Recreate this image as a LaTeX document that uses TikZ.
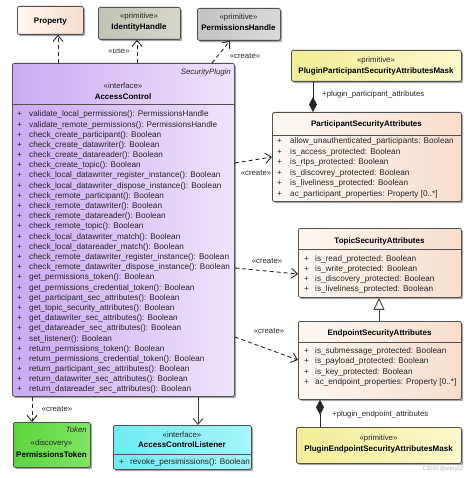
\documentclass[tikz,border=0pt]{standalone}
\usepackage{fontspec}
\setmainfont{Liberation Sans}
\usetikzlibrary{arrows.meta,shadows,calc}
\definecolor{acL}{RGB}{203,170,244}
\definecolor{acR}{RGB}{238,228,251}
\definecolor{peL}{RGB}{253,247,242}
\definecolor{peR}{RGB}{248,222,206}
\definecolor{yeL}{RGB}{242,238,150}
\definecolor{yeR}{RGB}{251,248,205}
\definecolor{giL}{RGB}{194,194,180}
\definecolor{giR}{RGB}{214,214,204}
\definecolor{gpL}{RGB}{196,196,196}
\definecolor{gpR}{RGB}{218,218,218}
\definecolor{grL}{RGB}{92,214,60}
\definecolor{grR}{RGB}{130,228,100}
\definecolor{cyL}{RGB}{110,236,243}
\definecolor{cyR}{RGB}{165,246,249}
\definecolor{frame}{RGB}{80,80,80}
\begin{document}
\begin{tikzpicture}[x=1pt,y=-1pt,
  box/.style={draw=frame, line width=0.8pt, rounded corners=2pt, inner sep=0pt, anchor=north west,
     drop shadow={shadow xshift=1.8pt, shadow yshift=-1.8pt, fill=black, opacity=0.35}},
  sepline/.style={draw=frame, line width=0.8pt},
  item/.style={font=\fontsize{8.2}{9}\selectfont, anchor=west, inner sep=0pt, text height=5.7pt, text depth=0pt, text=black!85},
  ttl/.style={font=\fontsize{8}{9}\selectfont\bfseries, inner sep=0pt, text height=5.8pt, text depth=0pt},
  stereo/.style={font=\fontsize{7.8}{9}\selectfont, inner sep=0pt, text height=5.6pt, text depth=0pt, text=black!85},
  lbl/.style={font=\fontsize{7.8}{9}\selectfont, inner sep=0pt, text height=5.6pt, text depth=0pt, text=black!85},
  dep/.style={draw=black!85, line width=0.9pt, dash pattern=on 4pt off 3pt, -{Straight Barb[length=6pt,width=10pt]}},
  assoc/.style={draw=black!75, line width=0.9pt, -{Straight Barb[length=6pt,width=10pt]}},
  gen/.style={draw=black!75, line width=0.9pt, -{Triangle[open,length=12pt,width=11pt,fill=white]}},
  comp/.style={draw=black!85, line width=0.9pt, {Diamond[length=15pt,width=8pt]}-},
]
\useasboundingbox (0,0) rectangle (474,478);

% ---- top boxes
\node[box, left color=peL, right color=peR, minimum width=66pt, minimum height=28pt] (prop) at (17,6) {};
\node[ttl] (propT) at (prop.center) {Property};

\node[box, left color=giL, right color=giR, minimum width=82pt, minimum height=32pt] (ih) at (98,7) {};
\node[stereo] (ihS) at (139,16) {«primitive»};
\node[ttl] (ihT) at (139,27) {IdentityHandle};

\node[box, left color=gpL, right color=gpR, minimum width=83pt, minimum height=32pt] (ph) at (197,8) {};
\node[stereo] (phS) at (238.5,17) {«primitive»};
\node[ttl] (phT) at (238.5,28) {PermissionsHandle};

% ---- AccessControl
\node[box, left color=acL, right color=acR, minimum width=222pt, minimum height=333pt] (ac) at (12,63) {};
\node[stereo, anchor=east, font=\fontsize{7.8}{9}\selectfont\itshape] (acP) at (231,72) {SecurityPlugin};
\node[stereo] (acS) at (123,86) {«interface»};
\node[ttl] (acT) at (123,97) {AccessControl};
\draw[sepline] (ac.west |- 0,104) -- (ac.east |- 0,104);
\foreach \t [count=\i from 0] in {
 validate\_local\_permissions(): PermissionsHandle,
 validate\_remote\_permissions(): PermissionsHandle,
 check\_create\_participant(): Boolean,
 check\_create\_datawriter(): Boolean,
 check\_create\_datareader(): Boolean,
 check\_create\_topic(): Boolean,
 check\_local\_datawriter\_register\_instance(): Boolean,
 check\_local\_datawriter\_dispose\_instance(): Boolean,
 check\_remote\_participant(): Boolean,
 check\_remote\_datawriter(): Boolean,
 check\_remote\_datareader(): Boolean,
 check\_remote\_topic(): Boolean,
 check\_local\_datawriter\_match(): Boolean,
 check\_local\_datareader\_match(): Boolean,
 check\_remote\_datawriter\_register\_instance(): Boolean,
 check\_remote\_datawriter\_dispose\_instance(): Boolean,
 get\_permissions\_token(): Boolean,
 get\_permissions\_credential\_token(): Boolean,
 get\_participant\_sec\_attributes(): Boolean,
 get\_topic\_security\_attributes(): Boolean,
 get\_datawriter\_sec\_attributes(): Boolean,
 get\_datareader\_sec\_attributes(): Boolean,
 set\_listener(): Boolean,
 return\_permissions\_token(): Boolean,
 return\_permissions\_credential\_token(): Boolean,
 return\_participant\_sec\_attributes(): Boolean,
 return\_datawriter\_sec\_attributes(): Boolean,
 return\_datareader\_sec\_attributes(): Boolean}{
  \node[item] (acp\i) at (17, 114+10.19*\i) {+};
  \node[item] (act\i) at (29, 114+10.19*\i) {\t};
}

% ---- bottom-left boxes
\node[box, left color=grL, right color=grR, minimum width=77pt, minimum height=45pt] (tok) at (13,422) {};
\node[stereo, anchor=east, font=\fontsize{7.8}{9}\selectfont\itshape] (tokI) at (87,430) {Token};
\node[stereo] (tokS) at (51.5,443) {«discovery»};
\node[ttl] (tokT) at (51.5,455) {PermissionsToken};

\node[box, left color=cyL, right color=cyR, minimum width=138pt, minimum height=44pt] (acl) at (113,425) {};
\node[stereo] (aclS) at (182,435) {«interface»};
\node[ttl] (aclT) at (182,445) {AccessControlListener};
\draw[sepline] (acl.west |- 0,454) -- (acl.east |- 0,454);
\node[item] (aclp) at (119,461.5) {+};
\node[item] (aclt) at (130,461.5) {revoke\_persimissions(): Boolean};

% ---- right column
\node[box, left color=yeL, right color=yeR, minimum width=170pt, minimum height=31pt] (ppm) at (291,50) {};
\node[stereo] (ppmS) at (376,60) {«primitive»};
\node[ttl] (ppmT) at (376,71) {PluginParticipantSecurityAttributesMask};

\node[box, left color=peL, right color=peR, minimum width=189pt, minimum height=89pt] (psa) at (272,112) {};
\node[ttl] (psaT) at (366.5,124) {ParticipantSecurityAttributes};
\draw[sepline] (psa.west |- 0,135) -- (psa.east |- 0,135);
\foreach \t [count=\i from 0] in {
 allow\_unauthenticated\_participants: Boolean,
 is\_access\_protected: Boolean,
 is\_rtps\_protected: Boolean,
 is\_discovrey\_protected: Boolean,
 is\_liveliness\_protected: Boolean,
 ac\_participant\_properties: Property [0..*]}{
  \node[item] (psap\i) at (277, 141+10.45*\i) {+};
  \node[item] (psat\i) at (290, 141+10.45*\i) {\t};
}

\node[box, left color=peL, right color=peR, minimum width=163pt, minimum height=69pt] (tsa) at (298,228) {};
\node[ttl] (tsaT) at (379.5,241) {TopicSecurityAttributes};
\draw[sepline] (tsa.west |- 0,249) -- (tsa.east |- 0,249);
\foreach \t [count=\i from 0] in {
 is\_read\_protected: Boolean,
 is\_write\_protected: Boolean,
 is\_discovery\_protected: Boolean,
 is\_liveliness\_protected: Boolean}{
  \node[item] (tsap\i) at (304, 258.3+10.2*\i) {+};
  \node[item] (tsat\i) at (315, 258.3+10.2*\i) {\t};
}

\node[box, left color=peL, right color=peR, minimum width=163pt, minimum height=78pt] (esa) at (298,321) {};
\node[ttl] (esaT) at (379.5,333) {EndpointSecurityAttributes};
\draw[sepline] (esa.west |- 0,342) -- (esa.east |- 0,342);
\foreach \t [count=\i from 0] in {
 is\_submessage\_protected: Boolean,
 is\_payload\_protected: Boolean,
 is\_key\_protected: Boolean,
 ac\_endpoint\_properties: Property [0..*]}{
  \node[item] (esap\i) at (304, 350.7+10.35*\i) {+};
  \node[item] (esat\i) at (315, 350.7+10.35*\i) {\t};
}

\node[box, left color=yeL, right color=yeR, minimum width=165pt, minimum height=36pt] (pem) at (296,427) {};
\node[stereo] (pemS) at (378.5,438) {«primitive»};
\node[ttl] (pemT) at (378.5,449) {PluginEndpointSecurityAttributesMask};

% ---- connectors
\draw[dep] (ac.north -| 58,0) -- (prop.south -| 58,0);
\draw[dep] (ac.north -| 137,0) -- (ih.south -| 137,0);
\node[lbl] (useL) at (119,51) {«use»};
\draw[dep] (ac.north -| 212,0) -- (ph.south -| 230,0);
\node[lbl] (phL) at (245,56) {«create»};

\draw[dep] (ac.east |- 0,163) -- (psa.west |- 0,157);
\node[lbl] (psaL) at (256,173) {«create»};
\draw[dep] (ac.east |- 0,268) -- (tsa.west |- 0,274);
\node[lbl] (tsaL) at (267,261) {«create»};
\draw[dep] (ac.east |- 0,337) -- (esa.west |- 0,360);
\node[lbl] (esaL) at (269,331) {«create»};

\draw[gen] (esa.north -| 379,0) -- (tsa.south -| 379,0);

\draw[comp] (psa.north -| 313,0) -- (ppm.south -| 313,0);
\node[lbl, anchor=west] (ppmL) at (322,94) {+plugin\_participant\_attributes};
\draw[comp] (esa.south -| 320,0) -- (pem.north -| 320,0);
\node[lbl, anchor=west] (pemL) at (332,414) {+plugin\_endpoint\_attributes};

\draw[dep] (ac.south -| 32,0) -- (tok.north -| 32,0);
\node[lbl] (tokL) at (57,409) {«create»};
\draw[assoc] (ac.south -| 198,0) -- (acl.north -| 198,0);

\node[font=\fontsize{5.5}{6}\selectfont, text=black!30, inner sep=0pt] (wm) at (443,469) {CSDN @pony12};
\end{tikzpicture}
\end{document}
